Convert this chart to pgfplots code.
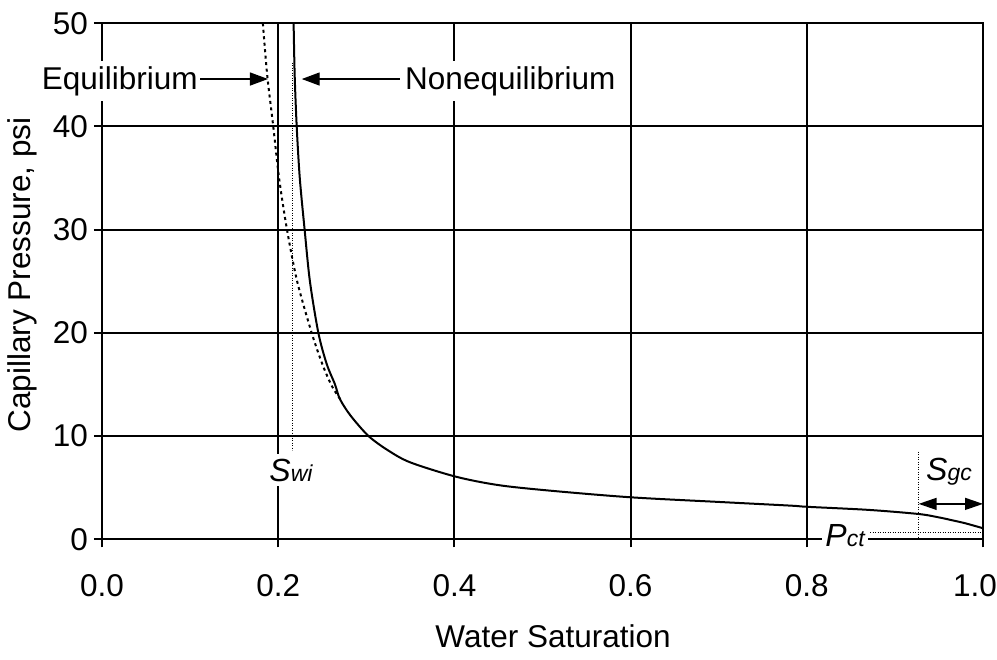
\documentclass[border=0pt]{standalone}
\usepackage{pgfplots}
\pgfplotsset{compat=1.18}
\usepackage{fontspec}
\setmainfont{Liberation Sans}
\usetikzlibrary{arrows.meta}
\newcommand{\bigf}{\fontsize{31.5}{36}\selectfont}
\begin{document}
\begin{tikzpicture}
\begin{axis}[
  set layers,
  scale only axis, width=881pt, height=516pt,
  at={(0,0)}, anchor=south west,
  xmin=0, xmax=1, ymin=0, ymax=50,
  xtick={0,0.2,0.4,0.6,0.8,1.0}, ytick={0,10,20,30,40,50},
  xticklabels={0.0,0.2,0.4,0.6,0.8,\hspace*{-16pt}1.0},
  yticklabels={0,10,20,30,40,50},
  grid=major, major grid style={black, line width=2pt},
  axis line style={black, line width=2pt},
  tick style={black, line width=2pt},
  tick align=outside, major tick length=8pt,
  xtick pos=bottom, ytick pos=left,
  tick label style={font=\bigf},
  xticklabel style={inner sep=0pt, anchor=north, yshift=-27pt},
  yticklabel style={inner sep=0pt, anchor=east, xshift=-6pt},
  xlabel={Water Saturation}, ylabel={Capillary Pressure, psi},
  label style={font=\bigf},
  xlabel style={at={(axis description cs:0.512,-0.187)}, anchor=center},
  ylabel style={at={(axis description cs:-0.0908,0.512)}, anchor=center},
  clip=false,
]
% Nonequilibrium curve
\addplot[black, line width=2pt, smooth, tension=0.5] coordinates {
 (0.2175,50) (0.2187,45) (0.2210,40) (0.2245,35) (0.2300,30) (0.2360,25)
 (0.2456,20) (0.2550,17) (0.2645,15) (0.2700,13.6) (0.2820,12) (0.3026,10)
 (0.3250,8.6) (0.3500,7.45) (0.4015,6.07) (0.4500,5.25) (0.5090,4.71)
 (0.6000,4.07) (0.7000,3.62) (0.7820,3.26) (0.8000,3.15) (0.8700,2.85)
 (0.9270,2.45) (0.9500,2.12) (0.9636,1.87) (0.9800,1.55) (1.0000,1.07)};
% Equilibrium curve
\addplot[black, line width=2pt, dash pattern=on 3pt off 3.5pt, smooth, tension=0.5] coordinates {
 (0.1826,50) (0.1875,45) (0.1944,40) (0.2010,35) (0.2100,30) (0.2215,25)
 (0.2380,20) (0.2500,17) (0.2600,15) (0.2670,14.0) (0.2720,13.4)};
% dotted reference lines
\addplot[black, line width=0.8pt, dash pattern=on 1pt off 1.5pt] coordinates {(0.2156,46.2) (0.2156,8.65)};
\addplot[black, line width=0.8pt, dash pattern=on 1pt off 1.5pt] coordinates {(0.927,8.5) (0.927,0)};
\addplot[black, line width=0.8pt, dash pattern=on 1pt off 1.5pt] coordinates {(0.872,0.68) (1.0,0.68)};
% arrows
\addplot[black, line width=1.4pt, -{Triangle[length=18pt,width=13pt]}] coordinates {(0.1112,44.6) (0.1884,44.6)};
\addplot[black, line width=1.4pt, -{Triangle[length=18pt,width=13pt]}] coordinates {(0.338,44.6) (0.2267,44.6)};
\addplot[black, line width=1.4pt, {Triangle[length=18pt,width=12pt]}-{Triangle[length=18pt,width=12pt]}] coordinates {(0.927,3.43) (1.0,3.43)};
% labels
\node[fill=white, inner xsep=2pt, inner ysep=5pt, anchor=east, font=\bigf] at (axis cs:0.1112,44.4) {Equilibrium};
\node[fill=white, inner xsep=2pt, inner ysep=5pt, anchor=west, font=\bigf] at (axis cs:0.3417,44.4) {Nonequilibrium};
\node[fill=white, inner xsep=3pt, inner ysep=5pt] at (axis cs:0.2145,6.7)
  {{\fontsize{32}{36}\selectfont\itshape S}{\fontsize{23}{26}\selectfont\itshape wi}};
\node[fill=white, inner xsep=3pt, inner ysep=4pt] at (axis cs:0.8434,0.35)
  {{\fontsize{32}{36}\selectfont\itshape P}{\fontsize{23}{26}\selectfont\itshape ct}};
\node[inner sep=2pt] at (axis cs:0.9614,6.5)
  {{\fontsize{32}{36}\selectfont\itshape S}{\fontsize{23}{26}\selectfont\itshape gc}};
\end{axis}
\pgfresetboundingbox
\path[use as bounding box] (-102pt,-120.7pt) rectangle (895pt,539.3pt);
\end{tikzpicture}
\end{document}
